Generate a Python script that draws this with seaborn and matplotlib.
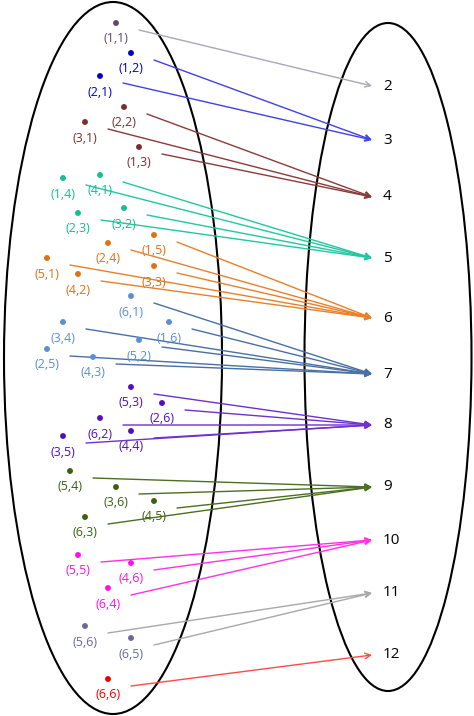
import matplotlib
matplotlib.use("Agg")
import matplotlib.pyplot as plt
import seaborn as sns
import pandas as pd
from matplotlib.patches import Ellipse

pairs = ["(1,1)","(1,2)","(2,1)","(2,2)","(3,1)","(1,3)","(1,4)","(4,1)","(2,3)","(3,2)",
         "(1,5)","(2,4)","(5,1)","(3,3)","(4,2)","(6,1)","(3,4)","(1,6)","(2,5)","(5,2)","(4,3)",
         "(5,3)","(2,6)","(6,2)","(4,4)","(3,5)","(5,4)","(3,6)","(4,5)","(6,3)",
         "(5,5)","(4,6)","(6,4)","(5,6)","(6,5)","(6,6)"]
dot_x = [116,131,100,124,85,139,63,100,78,124,154,108,47,154,78,131,63,169,47,139,93,
         131,162,100,131,63,70,116,154,85,78,131,108,85,131,108]
dot_y = [23,53,76,107,122,147,178,175,213,208,235,243,258,266,274,296,322,322,349,340,357,
         387,403,418,431,436,471,487,501,517,555,563,588,626,638,679]
sums = [int(p[1]) + int(p[3]) for p in pairs]
targets = [2,3,4,5,6,7,8,9,10,11,12]
target_y = [86,140,197,258,318,374,425,487,540,593,655]
line_colors = {2:"#a8a8b8",3:"#4040e8",4:"#8b3a3a",5:"#20c8a0",6:"#e8802a",7:"#4a6fa5",
               8:"#7030d0",9:"#4a7020",10:"#ff30e8",11:"#a8a8a8",12:"#ff4a4a"}
dot_colors = {2:"#604870",3:"#0000d0",4:"#7a2e2e",5:"#10c090",6:"#e07010",7:"#5b8fd0",
              8:"#5010c0",9:"#3a6010",10:"#ff10e8",11:"#6a6a9a",12:"#ee0000"}

df = pd.DataFrame({"pair":pairs,"x":dot_x,"y":dot_y,"sum":sums})

fig = plt.figure(figsize=(4.74,7.16), dpi=100)
ax = fig.add_axes([0,0,1,1])
ax.set_xlim(0,474); ax.set_ylim(716,0); ax.axis("off")

ax.add_patch(Ellipse((113,358),218,712,fill=False,lw=1.5,ec="black"))
ax.add_patch(Ellipse((388,357),167,668,fill=False,lw=1.5,ec="black"))

ty = dict(zip(targets,target_y))
for _, r in df.iterrows():
    c = line_colors[r["sum"]]
    ax.annotate("", xy=(372, ty[r["sum"]]), xytext=(r["x"]+23, r["y"]+7),
                arrowprops=dict(arrowstyle="->", color=c, lw=1.0, shrinkA=0, shrinkB=0))
    ax.text(r["x"], r["y"]+16, r["pair"], color=dot_colors[r["sum"]], fontsize=9,
            ha="center", va="center", family="Open Sans")

sns.scatterplot(data=df, x="x", y="y", hue="sum", palette=dot_colors, s=18,
                edgecolor="none", legend=False, ax=ax, zorder=5)
ax.set_xlim(0,474); ax.set_ylim(716,0); ax.axis("off")

for t, y in zip(targets, target_y):
    ax.text(383, y, str(t), fontsize=11, va="center", ha="left", family="Open Sans")

fig.savefig("out.png", dpi=100)
